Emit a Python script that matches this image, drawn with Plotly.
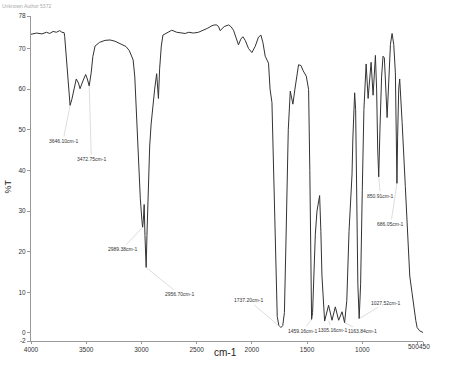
import plotly.graph_objects as go

# Spectrum readings (wavenumber cm-1, %T)
wavenumber = [4000, 3950, 3900, 3860, 3830, 3800, 3770, 3740, 3720, 3700, 3695, 3680, 3665, 3646,
              3630, 3610, 3590, 3570, 3556, 3530, 3505, 3490, 3473, 3455, 3440, 3420, 3380, 3330,
              3284, 3240, 3200, 3170, 3140, 3110, 3090, 3075, 3060, 3045, 3030, 3010, 2995, 2989,
              2982, 2975, 2968, 2957, 2950, 2940, 2925, 2912, 2900, 2880, 2862, 2846, 2835, 2820,
              2805, 2760, 2725, 2680, 2640, 2604, 2570, 2530, 2483, 2430, 2400, 2362, 2340, 2317,
              2300, 2287, 2250, 2211, 2190, 2166, 2140, 2121, 2100, 2081, 2060, 2030, 2000, 1970,
              1940, 1918, 1900, 1879, 1849, 1835, 1818, 1800, 1788, 1780, 1770, 1755, 1737, 1720,
              1705, 1691, 1680, 1670, 1652, 1640, 1628, 1610, 1590, 1577, 1555, 1535, 1507, 1486,
              1475, 1465, 1459, 1450, 1440, 1425, 1410, 1386, 1375, 1365, 1341, 1305, 1274, 1244,
              1214, 1183, 1160, 1140, 1120, 1100, 1093, 1085, 1069, 1060, 1050, 1040, 1028, 1015,
              1000, 985, 965, 947, 920, 902, 881, 870, 860, 851, 840, 825, 812, 800, 790, 775,
              760, 745, 730, 715, 700, 690, 686, 680, 670, 661, 650, 639, 610, 588, 580, 570,
              550, 534, 515, 503, 480, 450]
transmittance = [73.5, 73.8, 73.6, 74.0, 73.7, 74.2, 74.0, 74.4, 74.0, 73.9, 73.0, 68.0, 61.0, 56.0,
                 57.5, 60.5, 62.5, 61.5, 60.1, 62.0, 63.6, 62.5, 60.8, 64.0, 68.0, 70.6, 71.5, 72.0,
                 72.1, 71.8, 71.2, 70.9, 70.5, 69.5, 68.3, 67.2, 63.0, 53.0, 43.0, 33.0, 27.5, 26.0,
                 28.0, 31.6, 24.0, 16.1, 24.0, 35.0, 46.0, 51.4, 55.0, 60.0, 63.8, 57.7, 65.0, 70.6,
                 73.3, 74.0, 74.5, 74.0, 73.8, 73.7, 74.0, 73.8, 74.0, 74.6, 75.0, 75.6, 75.8, 75.8,
                 75.3, 74.4, 75.4, 75.8, 75.4, 74.5, 72.5, 70.9, 72.3, 72.9, 72.0, 70.0, 69.0, 70.5,
                 72.8, 73.3, 71.5, 68.1, 66.4, 60.0, 56.7, 35.0, 22.6, 10.0, 4.0, 1.8, 1.3, 1.8,
                 5.0, 22.6, 40.0, 50.0, 59.5, 58.0, 56.3, 60.0, 64.0, 66.0, 65.8, 64.5, 63.2, 59.9,
                 40.0, 15.0, 3.3, 5.0, 15.0, 24.3, 30.0, 33.8, 25.0, 14.0, 2.9, 6.8, 3.1, 6.4,
                 3.1, 5.2, 2.5, 8.0, 25.0, 37.0, 38.9, 48.0, 59.1, 55.0, 35.0, 12.0, 3.5, 12.0,
                 35.0, 55.0, 66.2, 57.7, 66.6, 58.5, 68.3, 60.0, 45.0, 38.4, 50.0, 63.0, 68.1, 67.7, 62.0, 53.0,
                 62.0, 71.0, 73.7, 71.0, 64.0, 45.0, 36.8, 48.0, 60.0, 62.5, 55.0, 51.8, 36.0, 22.6, 18.0, 14.0,
                 10.0, 6.4, 3.0, 1.3, 0.5, 0.1]

# Peak labels: head position and text position
peak_labels = ["3646.10cm-1", "3472.75cm-1", "2989.38cm-1", "2956.70cm-1", "1737.20cm-1",
               "1459.16cm-1", "1305.16cm-1", "1163.84cm-1", "1027.52cm-1", "850.91cm-1", "686.05cm-1"]
peak_x = [3646, 3473, 2989, 2957, 1737, 1459, 1305, 1160, 1028, 851, 686]
peak_y = [56.0, 60.8, 26.0, 16.1, 1.3, 3.3, 3.0, 2.5, 3.5, 38.4, 36.8]
label_x = [3710, 3453, 3175, 2658, 2026, 1543, 1274, 1002, 791, 836, 741]
label_y = [47.2, 42.8, 20.6, 9.5, 8.0, 0.5, 0.7, 0.4, 7.4, 33.8, 26.8]

x_ticks = [4000, 3500, 3000, 2500, 2000, 1500, 1000, 500, 450]
x_ticktext = ["4000", "3500", "3000", "2500", "2000", "1500", "1000", "", ""]
y_ticks = [78, 70, 60, 50, 40, 30, 20, 10, 0, -2]

font = "Liberation Sans, Arial, sans-serif"

fig = go.Figure()
fig.add_trace(go.Scatter(x=wavenumber, y=transmittance, mode="lines",
                         line=dict(color="#333333", width=1), hoverinfo="skip"))

annotations = []
for t, px, py, lx, ly in zip(peak_labels, peak_x, peak_y, label_x, label_y):
    annotations.append(dict(x=px, y=py, ax=lx, ay=ly, xref="x", yref="y", axref="x", ayref="y",
                            text=t, showarrow=True, arrowhead=0, arrowwidth=0.5,
                            arrowcolor="#bbbbbb", standoff=0,
                            font=dict(family=font, size=5, color="#333333")))
# crowded end tick labels, set side by side
annotations.append(dict(x=478, y=-0.016, xref="x", yref="paper", text="500", showarrow=False,
                        xanchor="right", yanchor="middle", borderpad=0,
                        font=dict(family=font, size=6.5, color="#333333")))
annotations.append(dict(x=495, y=-0.016, xref="x", yref="paper", text="450", showarrow=False,
                        xanchor="left", yanchor="middle", borderpad=0,
                        font=dict(family=font, size=6.5, color="#333333")))
annotations.append(dict(x=0.497, y=-0.036, xref="paper", yref="paper", text="cm-1",
                        showarrow=False, font=dict(family=font, size=10, color="#222222"),
                        xanchor="center", yanchor="middle"))
annotations.append(dict(x=-0.059, y=0.475, xref="paper", yref="paper", text="%T", textangle=-90,
                        showarrow=False, font=dict(family=font, size=9, color="#222222"),
                        xanchor="center", yanchor="middle"))
annotations.append(dict(x=-0.079, y=1.03, xref="paper", yref="paper", text="Unknown Author 5372",
                        showarrow=False, font=dict(family=font, size=5, color="#aaaaaa"),
                        xanchor="left", yanchor="middle"))

fig.update_layout(
    width=474, height=366,
    margin=dict(l=31, r=51, t=12, b=25),
    paper_bgcolor="white", plot_bgcolor="white",
    showlegend=False,
    annotations=annotations,
    xaxis=dict(range=[4000, 450], tickvals=x_ticks, ticktext=x_ticktext,
               tickangle=0,
               showgrid=False, zeroline=False, showline=True, linecolor="#999999", linewidth=1,
               ticks="outside", ticklen=2, tickcolor="#999999",
               tickfont=dict(family=font, size=6.5, color="#333333")),
    yaxis=dict(range=[-2, 78], tickvals=y_ticks, ticktext=[str(v) for v in y_ticks],
               showgrid=False, zeroline=False, showline=True, linecolor="#999999", linewidth=1,
               ticks="outside", ticklen=3, tickcolor="#999999",
               tickfont=dict(family=font, size=6.5, color="#333333")),
)

fig.write_html("out.html", config={"displayModeBar": False},
               post_script="document.body.style.margin='0';")
